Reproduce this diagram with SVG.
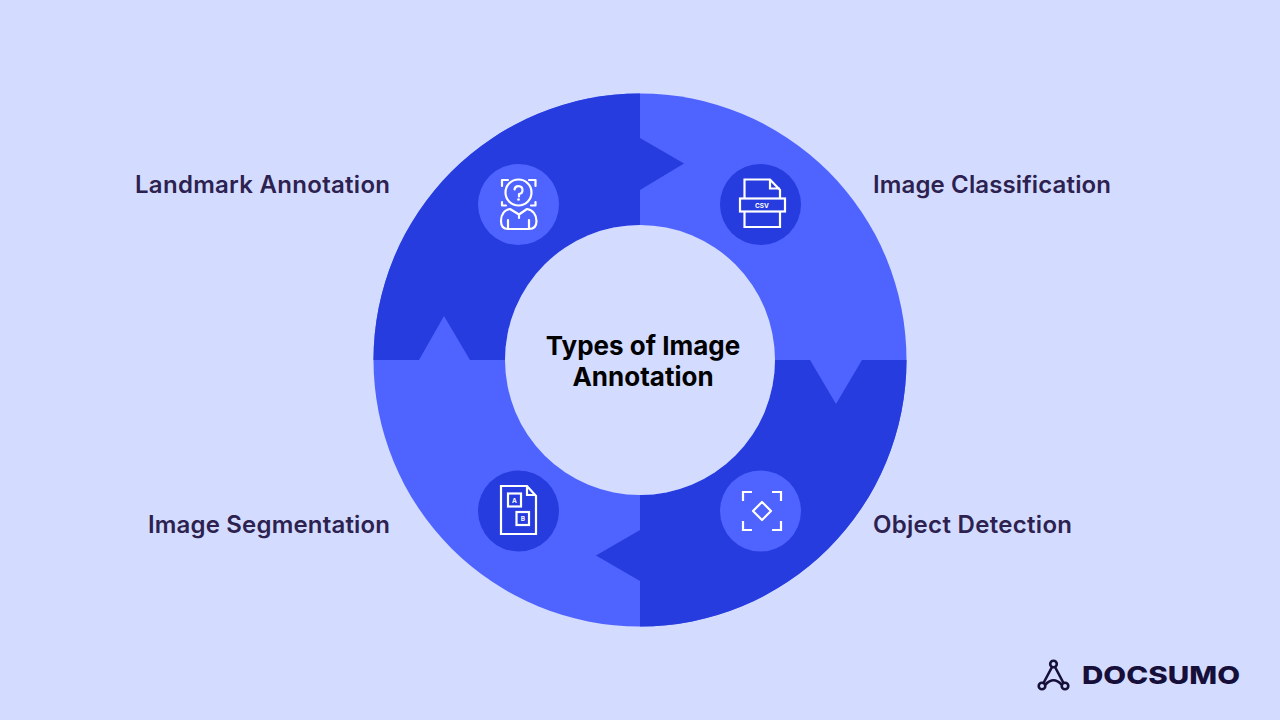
<svg xmlns="http://www.w3.org/2000/svg" width="1280" height="720" viewBox="0 0 1280 720">
<style>
.lbl{font-family:"Inter","Liberation Sans",sans-serif;font-weight:600;font-size:24px;fill:#2D2150}
.ttl{font-family:"Inter","Liberation Sans",sans-serif;font-weight:700;font-size:26px;fill:#000;text-anchor:middle}
.ic{fill:none;stroke:#fff;stroke-width:2.2}
.tiny{font-family:"Inter","Liberation Sans",sans-serif;font-weight:700;fill:#fff;text-anchor:middle}
.dark{fill:#263CDE}.light{fill:#4F63FF}
</style>
<rect width="1280" height="720" fill="#D3DCFF"/>
<g id="ring">
<circle class="light" cx="640" cy="360" r="266.5"/>
<path class="dark" d="M640 225V190L684 163.500L640 138V93.500A266.500 266.500 0 0 0 373.500 360H419L444 316L470 360H505A135 135 0 0 1 640 225Z"/>
<path class="dark" d="M775 360H810L836 404L862 360H906.500A266.500 266.500 0 0 1 640 626.500V581L596 555.500L640 530V495A135 135 0 0 0 775 360Z"/>
<circle cx="640" cy="360" r="135" fill="#D3DCFF"/>
</g>
<g id="center"><text class="ttl" x="643" y="355">Types of Image</text><text class="ttl" x="643" y="386">Annotation</text></g>
<g id="landmark">
<circle class="light" cx="518.500" cy="204.500" r="40.500"/>
<g class="ic" stroke-linecap="round" stroke-linejoin="round">
<path d="M502 186V180H508M529 180H535.500V186M502 202V205.500H506M535.500 202V205.500H531"/>
<circle cx="518.500" cy="192.500" r="13"/>
<path d="M514.500 189.500A4 4 0 1 1 519 194V196.500"/>
<path d="M510 209C504 210 501 215 501 221C501 226 503.500 229 508 229H529C534 229 536.500 226 536.500 221C536.500 215 533 210 527 209L519 214.500ZM519 214.500V218M508 220V229M529 220V229"/>
</g>
<circle cx="518.500" cy="199.500" r="1.300" fill="#fff"/>
<text class="lbl" x="135" y="192.500" textLength="255" lengthAdjust="spacing">Landmark Annotation</text>
</g>
<g id="classification">
<circle class="dark" cx="760.500" cy="204.500" r="40.500"/>
<g class="ic">
<path d="M744.500 198V179.500H770L780 190V198M780 212V227H744.500V212M770 179.500V188.500H780"/>
<rect x="740" y="198.500" width="45" height="13"/>
</g>
<text class="tiny" x="762" y="207.500" font-size="6.500" font-weight="600">CSV</text>
<text class="lbl" x="873" y="192.500" textLength="238" lengthAdjust="spacing">Image Classification</text>
</g>
<g id="segmentation">
<circle class="dark" cx="518.500" cy="511" r="40.500"/>
<g class="ic">
<path d="M501 486H527L536 496V534H501ZM527 486V495H536"/>
<rect x="508" y="493.500" width="13" height="13"/>
<rect x="516.500" y="512" width="12.500" height="13"/>
</g>
<text class="tiny" x="514.500" y="502.500" font-size="6.500">A</text>
<text class="tiny" x="522.800" y="521" font-size="6.500">B</text>
<text class="lbl" x="148" y="532.500" textLength="242" lengthAdjust="spacing">Image Segmentation</text>
</g>
<g id="detection">
<circle class="light" cx="760.500" cy="511" r="40.500"/>
<g class="ic" stroke-width="2.400">
<path d="M743 501V492H752M772 492H781V501M743 521V530H752M772 530H781V521"/>
<path d="M762 502L771 511L762 520L753 511Z" stroke-linejoin="round"/>
</g>
<text class="lbl" x="873" y="532.500" textLength="199" lengthAdjust="spacing">Object Detection</text>
</g>
<g id="logo">
<g fill="none" stroke="#160F3A" stroke-width="2.600">
<circle cx="1053.500" cy="664" r="3.300"/><circle cx="1042" cy="686" r="3.300"/><circle cx="1065" cy="686" r="3.300"/>
<path d="M1052 667L1043.500 683M1055 667L1063.500 683M1045.500 684.500Q1053.500 676 1061.500 684.500"/>
</g>
<text x="1082" y="684" font-family="Inter,'Liberation Sans',sans-serif" font-weight="800" font-size="25" fill="#160F3A" textLength="158" lengthAdjust="spacingAndGlyphs">DOCSUMO</text>
</g>
</svg>
